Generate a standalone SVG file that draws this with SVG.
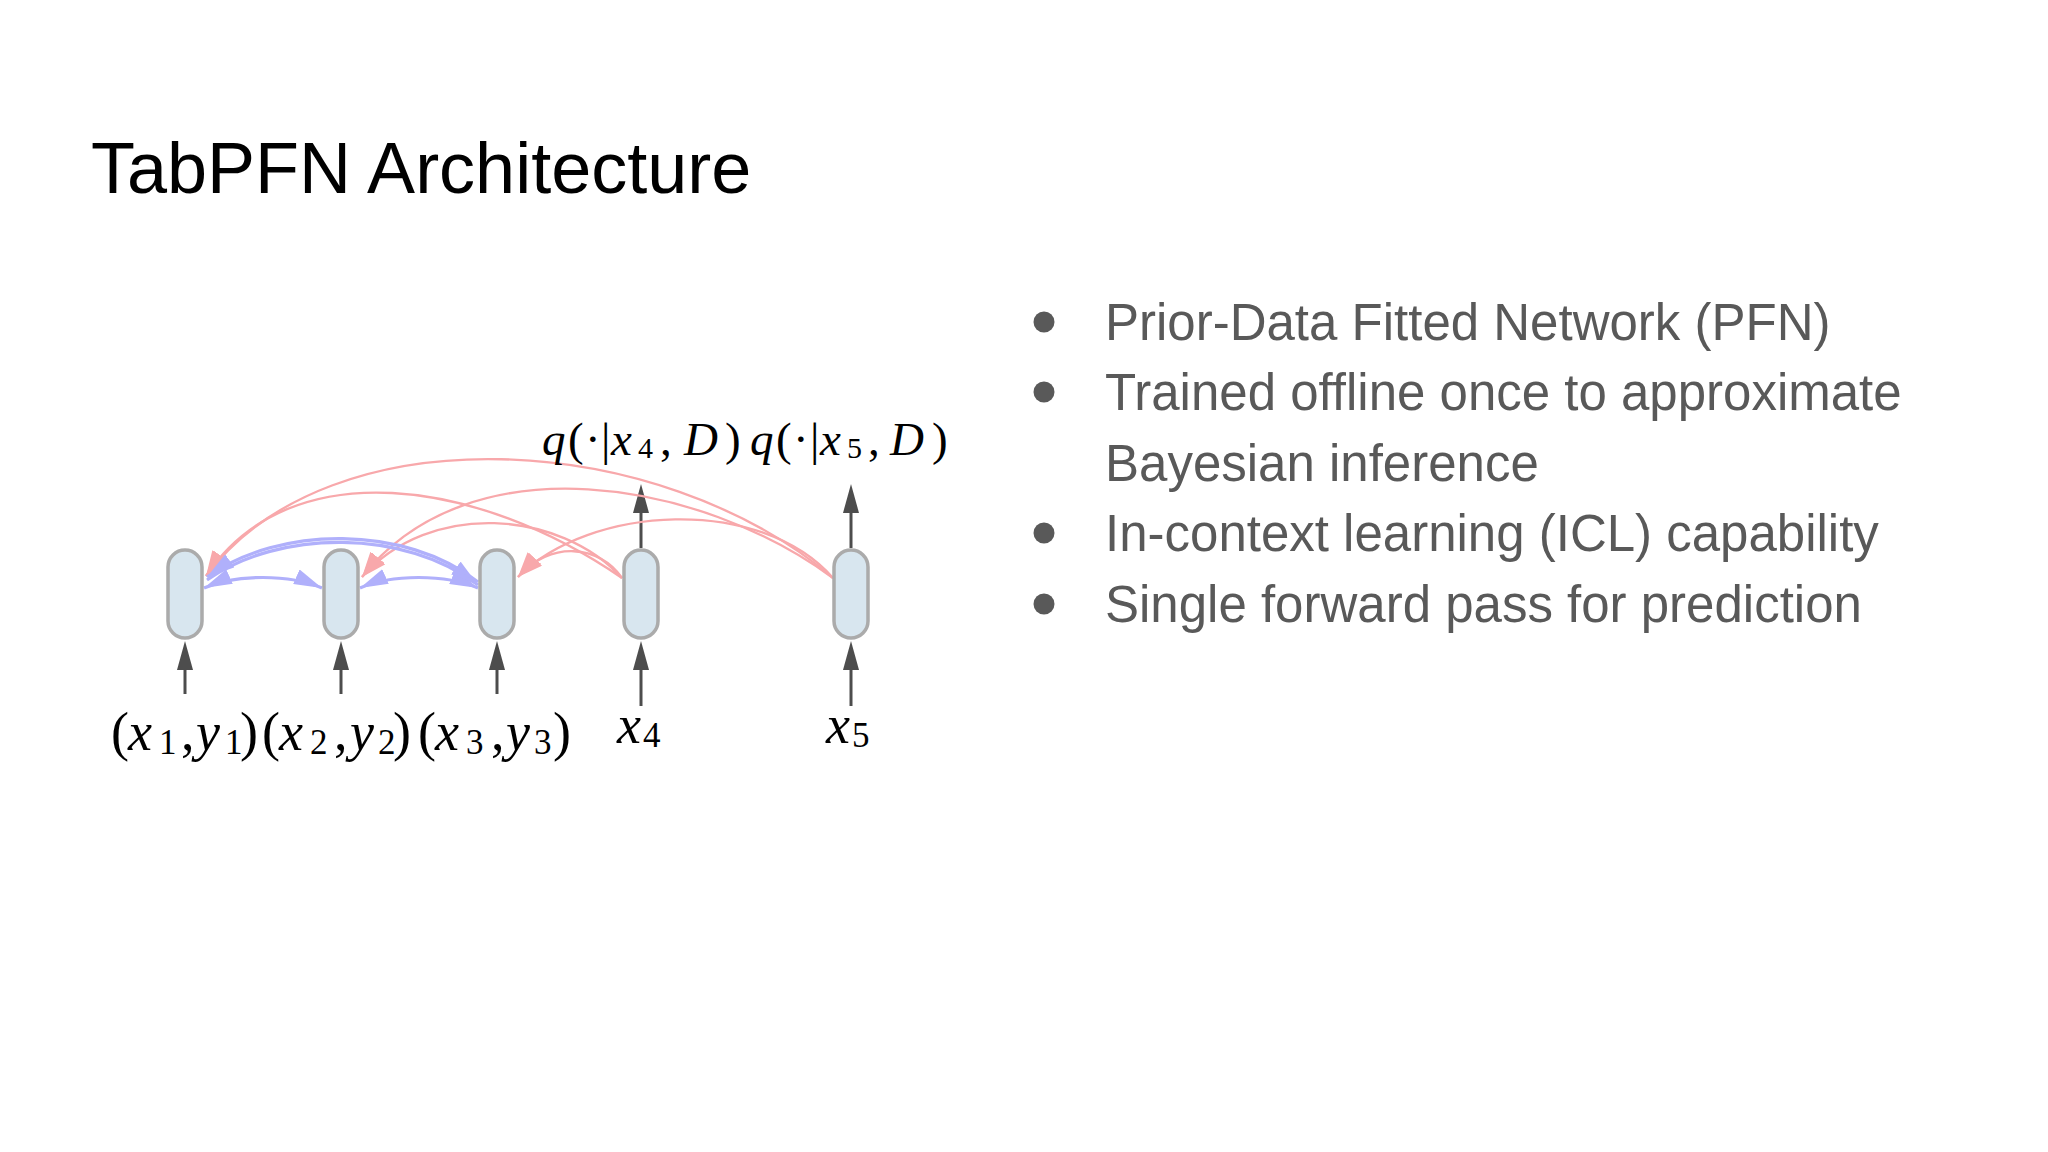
<svg xmlns="http://www.w3.org/2000/svg" width="2048" height="1152" viewBox="0 0 2048 1152">
<style>
.title{font-family:"Liberation Sans",Arial,sans-serif;font-size:72px;fill:#000}
.btxt{font-family:"Liberation Sans",Arial,sans-serif;font-size:51px;fill:#595959}
.dot{fill:#595959}
.math{font-family:"Liberation Serif","Times New Roman",serif;fill:#000}
.it{font-style:italic}
.node rect{fill:#d8e6ef;stroke:#ababab;stroke-width:3.5}
.io{stroke:#4d4d4d;stroke-width:3;fill:none}
.pink{stroke:#f8a8ab;stroke-width:2.3;fill:none;marker-end:url(#pinkHead)}
.blue{stroke:#b0b0fb;stroke-width:3.2;fill:none}
</style>
<defs>
<marker id="ioHead" markerUnits="userSpaceOnUse" markerWidth="30" markerHeight="16" refX="17" refY="8" orient="auto"><path d="M0,0 L29,8 L0,16 Z" fill="#4d4d4d"/></marker>
<marker id="pinkHead" markerUnits="userSpaceOnUse" markerWidth="26" markerHeight="18" refX="25" refY="9" orient="auto"><path d="M0,0 L25,9 L0,18 Z" fill="#f8a8ab"/></marker>
<marker id="blueHead" markerUnits="userSpaceOnUse" markerWidth="29" markerHeight="16" refX="28" refY="8" orient="auto-start-reverse"><path d="M0,0 L28,8 L0,16 Z" fill="#b0b0fb"/></marker>
</defs>
<rect width="2048" height="1152" fill="#fff"/>
<text class="title" x="91" y="193">TabPFN Architecture</text>
<g id="bullets">
<circle class="dot" cx="1044" cy="322" r="10.5"/>
<text class="btxt" x="1105" y="340">Prior-Data Fitted Network (PFN)</text>
<circle class="dot" cx="1044" cy="392" r="10.5"/>
<text class="btxt" x="1105" y="410">Trained offline once to approximate</text>
<text class="btxt" x="1105" y="481">Bayesian inference</text>
<circle class="dot" cx="1044" cy="533" r="10.5"/>
<text class="btxt" x="1105" y="551">In-context learning (ICL) capability</text>
<circle class="dot" cx="1044" cy="604" r="10.5"/>
<text class="btxt" x="1105" y="622">Single forward pass for prediction</text>
</g>
<g id="connectors">
<path class="io" d="M185,694 V653" marker-end="url(#ioHead)"/>
<path class="io" d="M341,694 V653" marker-end="url(#ioHead)"/>
<path class="io" d="M497,694 V653" marker-end="url(#ioHead)"/>
<path class="io" d="M641,706 V653" marker-end="url(#ioHead)"/>
<path class="io" d="M851,706 V653" marker-end="url(#ioHead)"/>
<path class="io" d="M641,548 V496" marker-end="url(#ioHead)"/>
<path class="io" d="M851,548 V496" marker-end="url(#ioHead)"/>
<path class="pink" d="M833,578 C660,430 330,410 206,576"/>
<path class="pink" d="M622,578 C480,480 290,450 206,576"/>
<path class="pink" d="M833,578 C700,480 470,440 362,577"/>
<path class="pink" d="M622,578 C560,510 430,500 362,577"/>
<path class="pink" d="M833,578 C760,495 590,505 518,577"/>
<path class="pink" d="M622,578 C600,545 550,540 518,577"/>
<path class="blue" d="M204,588 C235,574 290,574 322,588" marker-start="url(#blueHead)" marker-end="url(#blueHead)"/>
<path class="blue" d="M360,588 C391,574 446,574 478,588" marker-start="url(#blueHead)" marker-end="url(#blueHead)"/>
<path class="blue" d="M207,580 C280,529 405,529 478,585" marker-end="url(#blueHead)"/>
<path class="blue" d="M478,582 C405,525 280,525 207,577" marker-end="url(#blueHead)"/>
</g>
<g id="node1" class="node"><rect x="168" y="550" width="34" height="88" rx="17"/></g>
<g id="node2" class="node"><rect x="324" y="550" width="34" height="88" rx="17"/></g>
<g id="node3" class="node"><rect x="480" y="550" width="34" height="88" rx="17"/></g>
<g id="node4" class="node"><rect x="624" y="550" width="34" height="88" rx="17"/></g>
<g id="node5" class="node"><rect x="834" y="550" width="34" height="88" rx="17"/></g>
<g id="labels">
<text class="math" font-size="47" y="455"><tspan class="it" x="542">q</tspan><tspan x="568">(</tspan><tspan x="585">·</tspan><tspan x="601">|</tspan><tspan class="it" x="611">x</tspan><tspan x="638" font-size="30" dy="3">4</tspan><tspan x="660" dy="-3">,</tspan><tspan class="it" x="684">D</tspan><tspan x="725">)</tspan><tspan class="it" x="750">q</tspan><tspan x="776">(</tspan><tspan x="793">·</tspan><tspan x="810">|</tspan><tspan class="it" x="820">x</tspan><tspan x="847" font-size="30" dy="3">5</tspan><tspan x="868" dy="-3">,</tspan><tspan class="it" x="890">D</tspan><tspan x="932">)</tspan></text>
<text class="math" font-size="54" y="750"><tspan x="111">(</tspan><tspan class="it" x="128">x</tspan><tspan x="159" font-size="35" dy="4">1</tspan><tspan x="181" dy="-4">,</tspan><tspan class="it" x="196">y</tspan><tspan x="225" font-size="35" dy="4">1</tspan><tspan x="240" dy="-4">)</tspan><tspan x="262">(</tspan><tspan class="it" x="279">x</tspan><tspan x="310" font-size="35" dy="4">2</tspan><tspan x="334" dy="-4">,</tspan><tspan class="it" x="350">y</tspan><tspan x="378" font-size="35" dy="4">2</tspan><tspan x="393" dy="-4">)</tspan><tspan x="418">(</tspan><tspan class="it" x="435">x</tspan><tspan x="466" font-size="35" dy="4">3</tspan><tspan x="491" dy="-4">,</tspan><tspan class="it" x="506">y</tspan><tspan x="534" font-size="35" dy="4">3</tspan><tspan x="553" dy="-4">)</tspan></text>
<text class="math" font-size="54" y="743"><tspan class="it" x="617">x</tspan><tspan x="643" font-size="35" dy="4">4</tspan></text>
<text class="math" font-size="54" y="743"><tspan class="it" x="826">x</tspan><tspan x="852" font-size="35" dy="4">5</tspan></text>
</g>
</svg>
